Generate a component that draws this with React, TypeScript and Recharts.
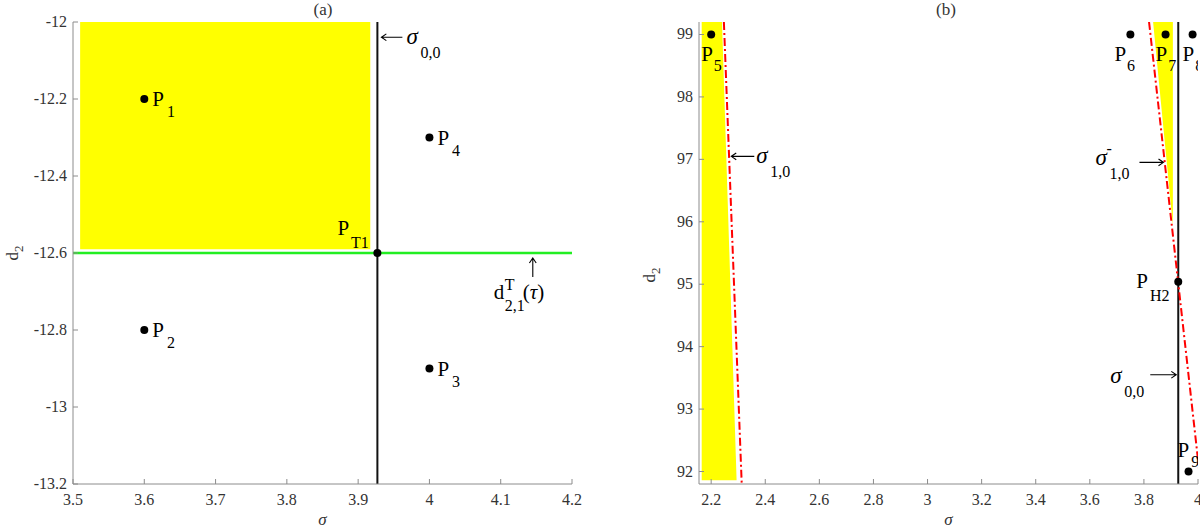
import React from 'react'
import {
  ComposedChart, XAxis, YAxis, Scatter, Line, Area, ReferenceLine, ReferenceArea,
} from 'recharts'

const SERIF = '"Liberation Serif", "Times New Roman", Times, serif'
const AXIS = '#8c8c8c'
const TICK_TEXT = '#333'
const YELLOW = '#ffff00'
const GREEN = '#22ee22'
const RED = '#ff0000'
const TICK_GAP = 8

// ---------------- panel (a) ----------------
const A_X_DOMAIN = [3.5, 4.2]
const A_Y_DOMAIN = [-13.2, -12]
const A_X_TICKS = [3.5, 3.6, 3.7, 3.8, 3.9, 4, 4.1, 4.2]
const A_Y_TICKS = [-13.2, -13, -12.8, -12.6, -12.4, -12.2, -12]
const A_SIGMA00 = 3.927
const A_D21T = -12.6
const A_YELLOW_X = [3.51, 3.917]
const A_YELLOW_Y = [-12.59, -12]
const A_POINTS = [
  { id: 'P1', s: 3.6, d: -12.2, sub: '1' },
  { id: 'P2', s: 3.6, d: -12.8, sub: '2' },
  { id: 'P3', s: 4.0, d: -12.9, sub: '3' },
  { id: 'P4', s: 4.0, d: -12.3, sub: '4' },
  { id: 'PT1', s: 3.927, d: -12.6, sub: 'T1' },
]
const A_NOTES = [
  { id: 'sigma00a', s: 3.927, d: -12.05 },
  { id: 'd21T', s: 4.145, d: -12.6 },
]

// ---------------- panel (b) ----------------
const B_X_DOMAIN = [2.155, 4.0]
const B_Y_DOMAIN = [91.8, 99.2]
const B_X_TICKS = [2.2, 2.4, 2.6, 2.8, 3, 3.2, 3.4, 3.6, 3.8, 4]
const B_Y_TICKS = [92, 93, 94, 95, 96, 97, 98, 99]
const B_SIGMA00 = 3.927
const B_SIGMA10 = [{ s: 2.247, d: 99.2 }, { s: 2.313, d: 91.8 }]
const B_SIGMA10M = [{ s: 3.819, d: 99.2 }, { s: 4.01, d: 91.8 }]
const B_YELLOW_LEFT = [
  { s: 2.165, r: [91.86, 99.2] },
  { s: 2.24, r: [91.86, 99.2] },
  { s: 2.294, r: [91.86, 91.86] },
]
const B_YELLOW_RIGHT = [
  { s: 3.834, r: [99.2, 99.2] },
  { s: 3.907, r: [95.95, 99.2] },
]
const B_POINTS = [
  { id: 'P5', s: 2.2, d: 99, sub: '5' },
  { id: 'P6', s: 3.75, d: 99, sub: '6' },
  { id: 'P7', s: 3.88, d: 99, sub: '7' },
  { id: 'P8', s: 3.98, d: 99, sub: '8' },
  { id: 'PH2', s: 3.927, d: 95.04, sub: 'H2' },
  { id: 'P9', s: 3.965, d: 92, sub: '9' },
]
const B_NOTES = [
  { id: 'sigma10', s: 2.267, d: 97 },
  { id: 'sigma10m', s: 3.876, d: 97 },
  { id: 'sigma00b', s: 3.927, d: 93.55 },
]

// label placement: [dx, dy] of "P" relative to the dot, sub gap, sub drop
const LABEL_POS: Record<string, number[]> = {
  P1: [8, 7, 3, 11],
  P2: [8, 7, 3, 11],
  P3: [8, 7, 3, 11],
  P4: [8, 7, 3, 11],
  PT1: [-40, -18, 2, 13],
  P5: [-10, 27, 1, 10],
  P6: [-16, 27, 1, 10],
  P7: [-10, 27, 1, 10],
  P8: [-10, 27, 1, 10],
  PH2: [-42, 6, 2, 13],
  P9: [-11, -15, 2, 10],
}

function PointShape(props: any) {
  const { cx, cy, payload } = props
  const [dx, dy, gap, drop] = LABEL_POS[payload.id]
  return (
    <g>
      <circle cx={cx} cy={cy} r={4} fill="#000" />
      <text x={cx + dx} y={cy + dy} fontFamily={SERIF} fontSize={21} fill="#000">
        P<tspan dx={gap} dy={drop} fontSize={16}>{payload.sub}</tspan>
      </text>
    </g>
  )
}

function Sig({ x, y, sub, sup }: any) {
  return (
    <g fontFamily={SERIF} fill="#000">
      <text x={x} y={y} fontSize={23} fontStyle="italic">σ</text>
      {sup && <text x={x + 11} y={y - 11} fontSize={16}>{sup}</text>}
      <text x={x + 14} y={y + 14} fontSize={16}>{sub}</text>
    </g>
  )
}

// thin arrow from tail (x1,y1) to tip (x2,y2)
function Arrow({ x1, y1, x2, y2 }: any) {
  const a = Math.atan2(y2 - y1, x2 - x1)
  const h = 6
  const p1 = [x2 - h * Math.cos(a - 0.6), y2 - h * Math.sin(a - 0.6)]
  const p2 = [x2 - h * Math.cos(a + 0.6), y2 - h * Math.sin(a + 0.6)]
  return (
    <path
      d={`M${x1},${y1}L${x2},${y2}M${p1[0]},${p1[1]}L${x2},${y2}L${p2[0]},${p2[1]}`}
      stroke="#000" strokeWidth={1.1} fill="none"
    />
  )
}

function NoteShape(props: any) {
  const { cx, cy, payload } = props
  switch (payload.id) {
    case 'sigma00a':
      return (
        <g>
          <Arrow x1={cx + 25} y1={cy - 4} x2={cx + 4} y2={cy - 4} />
          <Sig x={cx + 29} y={cy + 3} sub="0,0" />
        </g>
      )
    case 'd21T':
      return (
        <g fontFamily={SERIF} fill="#000">
          <Arrow x1={cx} y1={cy + 24} x2={cx} y2={cy + 5} />
          <text x={cx - 39} y={cy + 46} fontSize={21}>d</text>
          <text x={cx - 28} y={cy + 37} fontSize={16}>T</text>
          <text x={cx - 28} y={cy + 58} fontSize={16}>2,1</text>
          <text x={cx - 10} y={cy + 46} fontSize={21}>(<tspan fontStyle="italic">τ</tspan>)</text>
        </g>
      )
    case 'sigma10':
      return (
        <g>
          <Arrow x1={cx + 25} y1={cy - 3} x2={cx + 2} y2={cy - 3} />
          <Sig x={cx + 27} y={cy + 4} sub="1,0" />
        </g>
      )
    case 'sigma10m':
      return (
        <g>
          <Arrow x1={cx - 25} y1={cy + 3} x2={cx - 1} y2={cy + 3} />
          <Sig x={cx - 69} y={cy + 6} sub="1,0" sup="-" />
        </g>
      )
    case 'sigma00b':
      return (
        <g>
          <Arrow x1={cx - 28} y1={cy} x2={cx - 2} y2={cy} />
          <Sig x={cx - 68} y={cy + 8} sub="0,0" />
        </g>
      )
    default:
      return null
  }
}

// inward ticks, MATLAB style
function XTick(props: any) {
  const { x, y, payload } = props
  const axisY = y - TICK_GAP
  return (
    <g>
      <line x1={x} x2={x} y1={axisY} y2={axisY - 5} stroke={AXIS} />
      <text x={x} y={axisY + 21} textAnchor="middle" fontFamily={SERIF} fontSize={16} fill={TICK_TEXT}>
        {payload.value}
      </text>
    </g>
  )
}

function YTick(props: any) {
  const { x, y, payload } = props
  const axisX = x + TICK_GAP
  return (
    <g>
      <line x1={axisX} x2={axisX + 5} y1={y} y2={y} stroke={AXIS} />
      <text x={axisX - 6} y={y + 5} textAnchor="end" fontFamily={SERIF} fontSize={16} fill={TICK_TEXT}>
        {payload.value}
      </text>
    </g>
  )
}

function XLabel(props: any) {
  const { viewBox } = props
  const { x, y, width } = viewBox
  return (
    <text x={x + width / 2} y={y + 41} textAnchor="middle" fontFamily={SERIF} fontSize={17} fontStyle="italic" fill={TICK_TEXT}>
      σ
    </text>
  )
}

function YLabel(props: any) {
  const { viewBox, dx = 0, dy = 0 } = props
  const lx = viewBox.x + dx
  const ly = viewBox.y + viewBox.height / 2 + dy
  return (
    <text x={lx} y={ly} transform={`rotate(-90, ${lx}, ${ly})`} textAnchor="middle" fontFamily={SERIF} fontSize={17} fill={TICK_TEXT}>
      d<tspan dy={5} fontSize={13}>2</tspan>
    </text>
  )
}

function PanelA() {
  return (
    <ComposedChart width={600} height={531} margin={{ top: 22, right: 28, bottom: 17, left: 43 }}>
      <XAxis
        type="number" dataKey="s" domain={A_X_DOMAIN} ticks={A_X_TICKS} interval={0} allowDataOverflow
        height={30} tickSize={0} tickMargin={TICK_GAP} tickLine={false} tick={<XTick />}
        axisLine={{ stroke: AXIS }} label={<XLabel />}
      />
      <YAxis
        type="number" dataKey="d" domain={A_Y_DOMAIN} ticks={A_Y_TICKS} interval={0} allowDataOverflow
        width={30} tickSize={0} tickMargin={TICK_GAP} tickLine={false} tick={<YTick />}
        axisLine={{ stroke: AXIS }} label={<YLabel dx={-25} />}
      />
      <ReferenceArea
        x1={A_YELLOW_X[0]} x2={A_YELLOW_X[1]} y1={A_YELLOW_Y[0]} y2={A_YELLOW_Y[1]}
        fill={YELLOW} fillOpacity={1} stroke="none"
      />
      <ReferenceLine y={A_D21T} stroke={GREEN} strokeWidth={2.5} />
      <ReferenceLine x={A_SIGMA00} stroke="#111" strokeWidth={2} />
      <Scatter data={A_POINTS} dataKey="d" shape={<PointShape />} isAnimationActive={false} />
      <Scatter data={A_NOTES} dataKey="d" shape={<NoteShape />} isAnimationActive={false} />
    </ComposedChart>
  )
}

function PanelB() {
  return (
    <ComposedChart width={600} height={531} margin={{ top: 22, right: 2, bottom: 17, left: 69 }}>
      <XAxis
        type="number" dataKey="s" domain={B_X_DOMAIN} ticks={B_X_TICKS} interval={0} allowDataOverflow
        height={30} tickSize={0} tickMargin={TICK_GAP} tickLine={false} tick={<XTick />}
        axisLine={{ stroke: AXIS }} label={<XLabel />}
      />
      <YAxis
        type="number" dataKey="d" domain={B_Y_DOMAIN} ticks={B_Y_TICKS} interval={0} allowDataOverflow
        width={30} tickSize={0} tickMargin={TICK_GAP} tickLine={false} tick={<YTick />}
        axisLine={{ stroke: AXIS }} label={<YLabel dx={-14} dy={22} />}
      />
      <Area data={B_YELLOW_LEFT} dataKey="r" type="linear" fill={YELLOW} fillOpacity={1} stroke="none" isAnimationActive={false} />
      <Area data={B_YELLOW_RIGHT} dataKey="r" type="linear" fill={YELLOW} fillOpacity={1} stroke="none" isAnimationActive={false} />
      <ReferenceLine x={B_SIGMA00} stroke="#111" strokeWidth={2} />
      <Line data={B_SIGMA10} dataKey="d" type="linear" stroke={RED} strokeWidth={2} strokeDasharray="8 3 2 3" dot={false} isAnimationActive={false} />
      <Line data={B_SIGMA10M} dataKey="d" type="linear" stroke={RED} strokeWidth={2} strokeDasharray="8 3 2 3" dot={false} isAnimationActive={false} />
      <Scatter data={B_POINTS} dataKey="d" shape={<PointShape />} isAnimationActive={false} />
      <Scatter data={B_NOTES} dataKey="d" shape={<NoteShape />} isAnimationActive={false} />
    </ComposedChart>
  )
}

const titleStyle: React.CSSProperties = {
  position: 'absolute', top: 0, width: 60, textAlign: 'center',
  fontFamily: SERIF, fontSize: 17, color: TICK_TEXT, lineHeight: '20px',
}

export default function App() {
  return (
    <div style={{ position: 'absolute', left: 0, top: 0, width: 1200, height: 531, background: '#fff', overflow: 'hidden' }}>
      <div style={{ position: 'absolute', left: 0, top: 0 }}><PanelA /></div>
      <div style={{ position: 'absolute', left: 600, top: 0 }}><PanelB /></div>
      <div style={{ ...titleStyle, left: 293 }}>(a)</div>
      <div style={{ ...titleStyle, left: 916 }}>(b)</div>
    </div>
  )
}
